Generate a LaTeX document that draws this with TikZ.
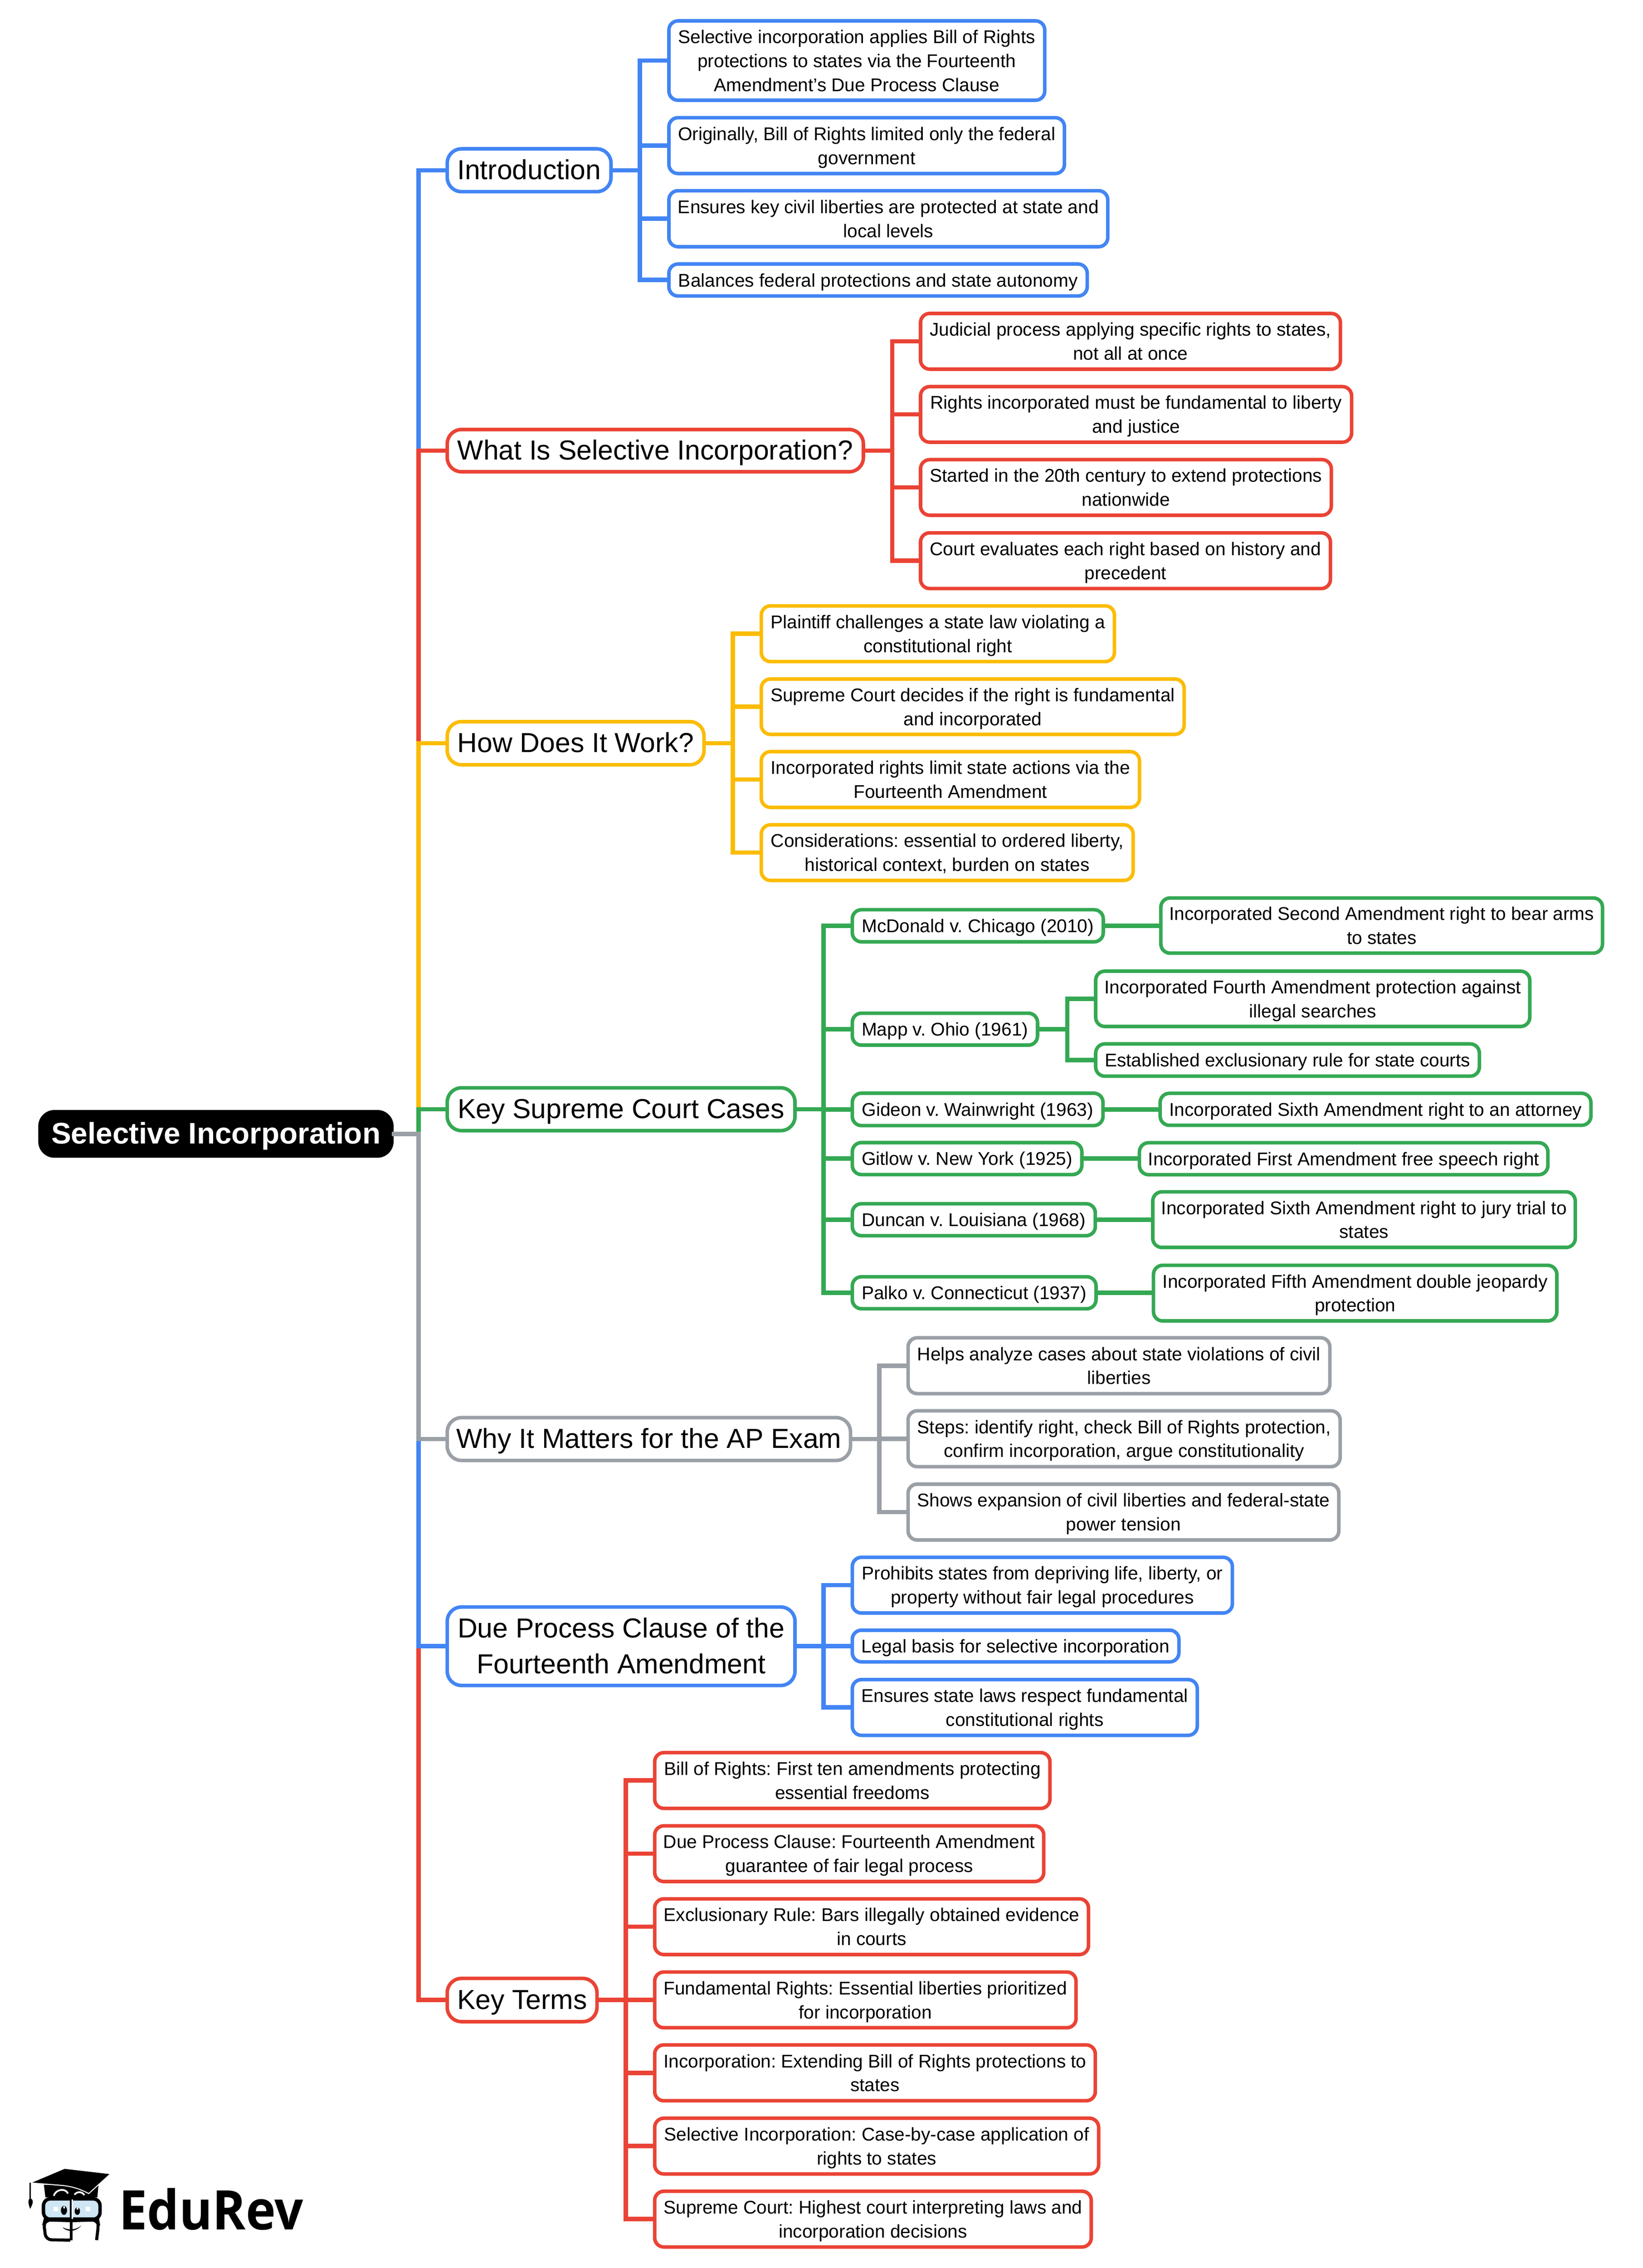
\documentclass[tikz,border=0pt]{standalone}
\usepackage{fontspec}
\setmainfont{Liberation Sans}
\newfontfamily\logofont{Open Sans}
\frenchspacing
\definecolor{cblue}{HTML}{4285F4}
\definecolor{cred}{HTML}{EA4335}
\definecolor{cyel}{HTML}{FBBC04}
\definecolor{cgreen}{HTML}{34A853}
\definecolor{cgray}{HTML}{9AA0A6}
\definecolor{cglass}{HTML}{CFE6F5}
\newcommand\bx[7]{%
  \pgfmathsetmacro\bw{(#4-#2-2.44)*0.759}%
  \pgfmathsetmacro\bh{(#5-#3-2.44)*0.759}%
  \node[#6,minimum width=\bw pt,minimum height=\bh pt] (#1) at ({(#2+#4)/2},{(#3+#5)/2}) {\nstrut #7\nstrut};}
% parent, spine coordinate, child, colour
\newcommand\cn[4]{\draw[conn,#4] (#1.east) -- (#2 |- #1.east) |- (#3.west);}
\newcommand\sn[3]{\draw[conn,#3] (#1.east) -- (#1.east -| #2.west);}
\newcommand\lstrut{\rule[-2.2pt]{0pt}{11.4pt}}
\newcommand\hstrut{\rule[-3.1pt]{0pt}{15.9pt}}
\newcommand\rstrut{\rule[-3.4pt]{0pt}{17.2pt}}
\newcommand\nstrut{}
\tikzset{
  conn/.style={line width=2.3pt},
  basebox/.style={draw,fill=white,line width=1.85pt,inner sep=0pt,outer sep=0pt,align=center,text=black},
  leaf/.style={basebox,rounded corners=4.8pt,font=\fontsize{9.65}{12.55}\selectfont\let\nstrut\lstrut},
  head/.style={basebox,rounded corners=7.5pt,font=\fontsize{14.4}{18.8}\selectfont\let\nstrut\hstrut},
  rootbox/.style={draw=black,fill=black,line width=1.85pt,rounded corners=7.6pt,inner sep=0pt,outer sep=0pt,text=white,font=\fontsize{15.6}{19}\selectfont\bfseries\let\nstrut\rstrut},
}
\begin{document}
\begin{tikzpicture}[x=0.759pt,y=-0.759pt]
\useasboundingbox (0,0) rectangle (1134.1,1565.2);
\coordinate (sMain) at (289,0);
\coordinate (sI) at (441.7,0);
\coordinate (sW) at (615.9,0);
\coordinate (sH) at (505.9,0);
\coordinate (sK) at (568.5,0);
\coordinate (sM) at (736.7,0);
\coordinate (sY) at (607,0);
\coordinate (sD) at (568.5,0);
\coordinate (sT) at (432,0);

\bx{root}{26.4}{766}{271.7}{799}{rootbox}{Selective Incorporation}
\bx{intro}{307.5}{101.5}{423}{133.5}{head,draw=cblue}{Introduction}
\bx{what}{307.5}{295.2}{597.2}{326.8}{head,draw=cred}{What Is Selective Incorporation?}
\bx{how}{307.5}{496.8}{487.2}{529}{head,draw=cyel}{How Does It Work?}
\bx{key}{307.5}{749.5}{550}{781.5}{head,draw=cgreen}{Key Supreme Court Cases}
\bx{why}{307.5}{977.1}{588.3}{1009.1}{head,draw=cgray}{Why It Matters for the AP Exam}
\bx{due}{307.5}{1107.8}{550}{1164.4}{head,draw=cblue}{Due Process Clause of the\\Fourteenth Amendment}
\bx{terms}{307.5}{1364.1}{413.3}{1396.4}{head,draw=cred}{Key Terms}

\bx{i1}{460.5}{13.2}{722.4}{70.4}{leaf,draw=cblue}{Selective incorporation applies Bill of Rights\\protections to states via the Fourteenth\\Amendment's Due Process Clause}
\bx{i2}{460.5}{80}{736}{121}{leaf,draw=cblue}{Originally, Bill of Rights limited only the federal\\government}
\bx{i3}{460.5}{130.4}{765.9}{171.5}{leaf,draw=cblue}{Ensures key civil liberties are protected at state and\\local levels}
\bx{i4}{460.5}{181}{751.7}{205.5}{leaf,draw=cblue}{Balances federal protections and state autonomy}

\bx{w1}{634.2}{215.1}{926.5}{256}{leaf,draw=cred}{Judicial process applying specific rights to states,\\not all at once}
\bx{w2}{634.2}{265.6}{934.2}{306.4}{leaf,draw=cred}{Rights incorporated must be fundamental to liberty\\and justice}
\bx{w3}{634.2}{316}{920.2}{356.8}{leaf,draw=cred}{Started in the 20th century to extend protections\\nationwide}
\bx{w4}{634.2}{366.5}{919.6}{407.4}{leaf,draw=cred}{Court evaluates each right based on history and\\precedent}

\bx{h1}{524.3}{416.9}{770.5}{457.8}{leaf,draw=cyel}{Plaintiff challenges a state law violating a\\constitutional right}
\bx{h2}{524.3}{467.4}{818.6}{508}{leaf,draw=cyel}{Supreme Court decides if the right is fundamental\\and incorporated}
\bx{h3}{524.3}{517.5}{787.8}{558.4}{leaf,draw=cyel}{Incorporated rights limit state actions via the\\Fourteenth Amendment}
\bx{h4}{524.3}{568}{783.4}{608.8}{leaf,draw=cyel}{Considerations: essential to ordered liberty,\\historical context, burden on states}

\bx{k1}{587.1}{626.6}{762.8}{651.2}{leaf,draw=cgreen}{McDonald v. Chicago (2010)}
\bx{k1a}{800.1}{618.5}{1107.4}{659}{leaf,draw=cgreen}{Incorporated Second Amendment right to bear arms\\to states}
\bx{k2}{587.1}{698}{717.4}{722.5}{leaf,draw=cgreen}{Mapp v. Ohio (1961)}
\bx{k2a}{755.1}{669}{1057.2}{709.6}{leaf,draw=cgreen}{Incorporated Fourth Amendment protection against\\illegal searches}
\bx{k2b}{755.1}{719.2}{1022.4}{743.9}{leaf,draw=cgreen}{Established exclusionary rule for state courts}
\bx{k3}{587.1}{753.2}{762.6}{778}{leaf,draw=cgreen}{Gideon v. Wainwright (1963)}
\bx{k3a}{799.6}{753.3}{1099.4}{777.8}{leaf,draw=cgreen}{Incorporated Sixth Amendment right to an attorney}
\bx{k4}{587.1}{787.3}{748}{811.8}{leaf,draw=cgreen}{Gitlow v. New York (1925)}
\bx{k4a}{785.3}{787.4}{1069.7}{811.9}{leaf,draw=cgreen}{Incorporated First Amendment free speech right}
\bx{k5}{587.1}{829.5}{757.3}{854}{leaf,draw=cgreen}{Duncan v. Louisiana (1968)}
\bx{k5a}{794.5}{821.3}{1088.6}{862.1}{leaf,draw=cgreen}{Incorporated Sixth Amendment right to jury trial to\\states}
\bx{k6}{587.1}{879.9}{757.8}{904.4}{leaf,draw=cgreen}{Palko v. Connecticut (1937)}
\bx{k6a}{795}{872}{1075.9}{912.8}{leaf,draw=cgreen}{Incorporated Fifth Amendment double jeopardy\\protection}

\bx{y1}{625.6}{922}{919.2}{963}{leaf,draw=cgray}{Helps analyze cases about state violations of civil\\liberties}
\bx{y2}{625.6}{972.4}{926.3}{1013.4}{leaf,draw=cgray}{Steps: identify right, check Bill of Rights protection,\\confirm incorporation, argue constitutionality}
\bx{y3}{625.6}{1023}{925.4}{1064}{leaf,draw=cgray}{Shows expansion of civil liberties and federal-state\\power tension}

\bx{d1}{587.1}{1073.5}{851.9}{1114.4}{leaf,draw=cblue}{Prohibits states from depriving life, liberty, or\\property without fair legal procedures}
\bx{d2}{587.1}{1123.8}{815}{1148.1}{leaf,draw=cblue}{Legal basis for selective incorporation}
\bx{d3}{587.1}{1157.9}{827.7}{1198.8}{leaf,draw=cblue}{Ensures state laws respect fundamental\\constitutional rights}

\bx{t1}{450.7}{1208.3}{726}{1249.2}{leaf,draw=cred}{Bill of Rights: First ten amendments protecting\\essential freedoms}
\bx{t2}{450.7}{1258.8}{721.7}{1299.7}{leaf,draw=cred}{Due Process Clause: Fourteenth Amendment\\guarantee of fair legal process}
\bx{t3}{450.7}{1309.2}{752.6}{1350.1}{leaf,draw=cred}{Exclusionary Rule: Bars illegally obtained evidence\\in courts}
\bx{t4}{450.7}{1359.7}{744}{1400.6}{leaf,draw=cred}{Fundamental Rights: Essential liberties prioritized\\for incorporation}
\bx{t5}{450.7}{1410}{757.3}{1451}{leaf,draw=cred}{Incorporation: Extending Bill of Rights protections to\\states}
\bx{t6}{450.7}{1460.6}{759.6}{1501.5}{leaf,draw=cred}{Selective Incorporation: Case-by-case application of\\rights to states}
\bx{t7}{450.7}{1511}{754.5}{1551.9}{leaf,draw=cred}{Supreme Court: Highest court interpreting laws and\\incorporation decisions}

% main spine: outer branches first so the inner colours lie on top
\cn{root}{sMain}{intro}{cblue}
\cn{root}{sMain}{what}{cred}
\cn{root}{sMain}{how}{cyel}
\cn{root}{sMain}{terms}{cred}
\cn{root}{sMain}{due}{cblue}
\cn{root}{sMain}{key}{cgreen}
\cn{root}{sMain}{why}{cgray}

\foreach \c in {i1,i2,i3,i4} {\cn{intro}{sI}{\c}{cblue}}
\foreach \c in {w1,w2,w3,w4} {\cn{what}{sW}{\c}{cred}}
\foreach \c in {h1,h2,h3,h4} {\cn{how}{sH}{\c}{cyel}}
\foreach \c in {k1,k2,k3,k4,k5,k6} {\cn{key}{sK}{\c}{cgreen}}
\foreach \c in {y1,y2,y3} {\cn{why}{sY}{\c}{cgray}}
\foreach \c in {d1,d2,d3} {\cn{due}{sD}{\c}{cblue}}
\foreach \c in {t1,t2,t3,t4,t5,t6,t7} {\cn{terms}{sT}{\c}{cred}}
\sn{k1}{k1a}{cgreen}
\cn{k2}{sM}{k2a}{cgreen}
\cn{k2}{sM}{k2b}{cgreen}
\sn{k3}{k3a}{cgreen}
\sn{k4}{k4a}{cgreen}
\sn{k5}{k5a}{cgreen}
\sn{k6}{k6a}{cgreen}

% logo, in reference pixels
\begin{scope}[x=0.2pt,y=-0.2pt]
  \fill (115,5722) -- (258,5722) -- (255,5755) -- (119,5755) -- cycle;
  \draw[fill=cglass,line width=1.8pt,rounded corners=3.5pt] (114,5759) rectangle (262,5812);
  \draw[line width=1.6pt,rounded corners=3pt] (184,5867) -- (120,5866) .. controls (117,5840) and (116,5830) .. (116,5822) -- (118,5814) -- (184,5816);
  \draw[line width=1.6pt,rounded corners=3pt] (190,5816) -- (256,5814) -- (258,5826) -- (253,5867);
  \draw[line width=1.6pt] (186.5,5750) -- (186.5,5868);
  \draw[white,line width=0.5pt] (189.5,5760) -- (189.5,5812);
  \fill[draw=white,line width=0.5pt] (79,5717) -- (169,5679) -- (290,5693) -- (232.5,5745) .. controls (210,5733) and (190,5727) .. (166,5724) -- cycle;
  \draw[white,line width=0.9pt] (141,5751) .. controls (146,5733) and (172,5730) .. (178,5745);
  \draw[white,line width=0.9pt] (195,5748) .. controls (203,5738) and (215,5740) .. (221,5749);
  \draw[line width=0.8pt] (79,5717) -- (79,5758);
  \fill (79,5757) .. controls (72,5762) and (74,5772) .. (79,5785) .. controls (86,5772) and (90,5762) .. (79,5757) -- cycle;
  \fill (167.6,5789) ellipse (8 and 12);
  \fill (202.6,5791) ellipse (7 and 10);
  \fill[white] (168,5781) ellipse (2.5 and 3.5);
  \fill[white] (203,5784) ellipse (2.5 and 3.5);
  \fill[white] (140,5780) rectangle (152,5792);
  \fill[white] (224,5780) rectangle (236,5792);
  \fill (164,5833) .. controls (172,5845) and (198,5848) .. (213.5,5828) .. controls (200,5841) and (178,5842) .. (164,5833) -- cycle;
  \node[inner sep=0pt,anchor=base west,font=\logofont\fontsize{28.6}{30}\selectfont\bfseries] (brand) at (311,5840) {\scalebox{0.925}[1]{EduRev}};
\end{scope}
\end{tikzpicture}
\end{document}
